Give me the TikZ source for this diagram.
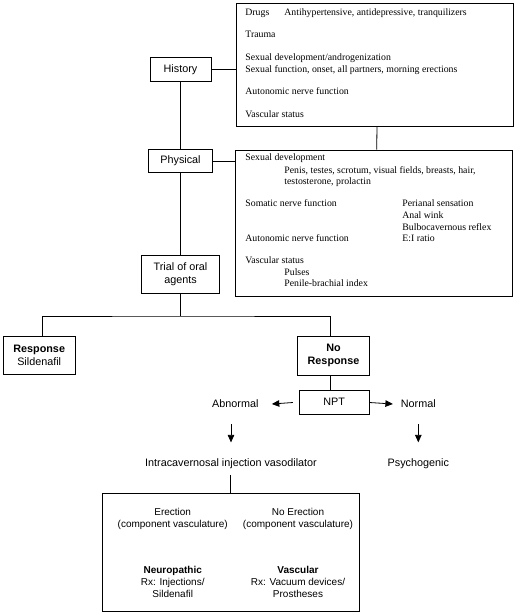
\documentclass[tikz,border=0pt]{standalone}
\usepackage{fontspec}
\setmainfont{Liberation Serif}
\setsansfont{Liberation Sans}
\usetikzlibrary{arrows.meta}
\begin{document}
\begin{tikzpicture}[x=1pt,y=-1pt, line width=0.8pt,
 box/.style={draw, inner sep=0pt, align=center, font=\sffamily\fontsize{10.8}{13}\selectfont},
 bigbox/.style={draw, inner sep=0pt},
 tl/.style={anchor=west, inner sep=0pt, font=\fontsize{9.8}{11.5}\selectfont, text height=7pt, text depth=2pt},
 lab/.style={inner sep=0pt, font=\sffamily\fontsize{10.8}{13}\selectfont, text height=8pt, text depth=2pt},
 btxt/.style={inner sep=0pt, align=center, font=\sffamily\fontsize{10}{12}\selectfont},
 arr/.style={-{Triangle[length=7.5pt,width=6.5pt]}}]
\useasboundingbox (0,0) rectangle (520,615);
% upper boxes
\node[bigbox, minimum width=277pt, minimum height=122.7pt] (top) at (374.5,64.7) {};
\node[bigbox, minimum width=277pt, minimum height=146.7pt] (box2) at (374.2,223.3) {};
\node[box, minimum width=61pt, minimum height=23.6pt] (hist) at (180.5,69.5) {History};
\node[box, minimum width=63.6pt, minimum height=23.7pt] (phys) at (180.5,160.9) {Physical};
\node[box, minimum width=78.3pt, minimum height=38.4pt] (trial) at (180.5,274.5) {Trial of oral\\agents};
% top box text
\node[tl] (d1) at (245,13) {Drugs};
\node[tl] (d2) at (284,13) {Antihypertensive, antidepressive, tranquilizers};
\node[tl] (d3) at (245,35) {Trauma};
\node[tl] (d4) at (245,58.3) {Sexual development/androgenization};
\node[tl] (d5) at (245,70) {Sexual function, onset, all partners, morning erections};
\node[tl] (d6) at (245,92.3) {Autonomic nerve function};
\node[tl] (d7) at (245,115) {Vascular status};
% box2 text
\node[tl] (p1) at (245,158.3) {Sexual development};
\node[tl] (p2) at (284,171) {Penis, testes, scrotum, visual fields, breasts, hair,};
\node[tl] (p3) at (284,182.3) {testosterone, prolactin};
\node[tl] (p4) at (245,204) {Somatic nerve function};
\node[tl] (p5) at (402,204) {Perianal sensation};
\node[tl] (p6) at (402,216) {Anal wink};
\node[tl] (p7) at (402,227.7) {Bulbocavernous reflex};
\node[tl] (p8) at (245,239) {Autonomic nerve function};
\node[tl] (p9) at (402,239) {E:I ratio};
\node[tl] (p10) at (245,260.7) {Vascular status};
\node[tl] (p11) at (284,272.7) {Pulses};
\node[tl] (p12) at (284,284.3) {Penile-brachial index};
% connectors upper
\draw (hist.east) -- (top.west |- hist.east);
\draw (phys.east) -- (box2.west |- phys.east);
\draw ([xshift=2.5pt]top.south) -- ([xshift=2.5pt]box2.north);
\draw (hist) -- (phys);
\draw (phys) -- (trial);
% split
\node[box, minimum width=71.7pt, minimum height=38.3pt] (resp) at (39.2,355.2) {\textbf{Response}\\Sildenafil};
\node[box, minimum width=71.6pt, minimum height=38.3pt] (noresp) at (333.5,355.8) {\textbf{No}\\\textbf{Response}};
\coordinate (split) at (180.5,316);
\draw (trial.south) -- (split);
\draw ([xshift=3.5pt]resp.north) |- (split) -| ([xshift=-3.5pt]noresp.north);
\node[box, minimum width=69.7pt, minimum height=23.6pt, text height=10pt, text depth=4pt] (npt) at (334.2,402.5) {NPT};
\draw ([xshift=-3.5pt]noresp.south) -- ([xshift=-4.2pt]npt.north);
\node[lab] (abn) at (235.3,404) {Abnormal};
\node[lab] (norm) at (418.3,404) {Normal};
\draw[arr] ([xshift=-6pt]npt.west) -- ([xshift=13pt]abn.east);
\draw[arr] (npt.east) -- ([xshift=-7.6pt]norm.west);
\node[lab] (intr) at (231,463.3) {Intracavernosal injection vasodilator};
\node[lab] (psy) at (418.3,463.3) {Psychogenic};
\draw[arr, shorten <=15pt, shorten >=15.5pt] (intr.north |- abn.south) -- (intr.north);
\draw[arr, shorten <=15pt, shorten >=15.5pt] (psy.north |- norm.south) -- (psy.north);
% bottom box
\node[bigbox, minimum width=257pt, minimum height=118pt] (bot) at (230.5,552) {};
\draw ([yshift=-6.7pt]intr.south -| bot.north) -- (bot.north);
\node[btxt] (e1) at (172.7,518.5) {Erection\\(component vasculature)};
\node[btxt] (e2) at (298,518.5) {No Erection\\(component vasculature)};
\node[btxt] (n1) at (172.7,582) {\textbf{Neuropathic}\\Rx: Injections/\\Sildenafil};
\node[btxt] (n2) at (298,582) {\textbf{Vascular}\\Rx: Vacuum devices/\\Prostheses};
\end{tikzpicture}
\end{document}
